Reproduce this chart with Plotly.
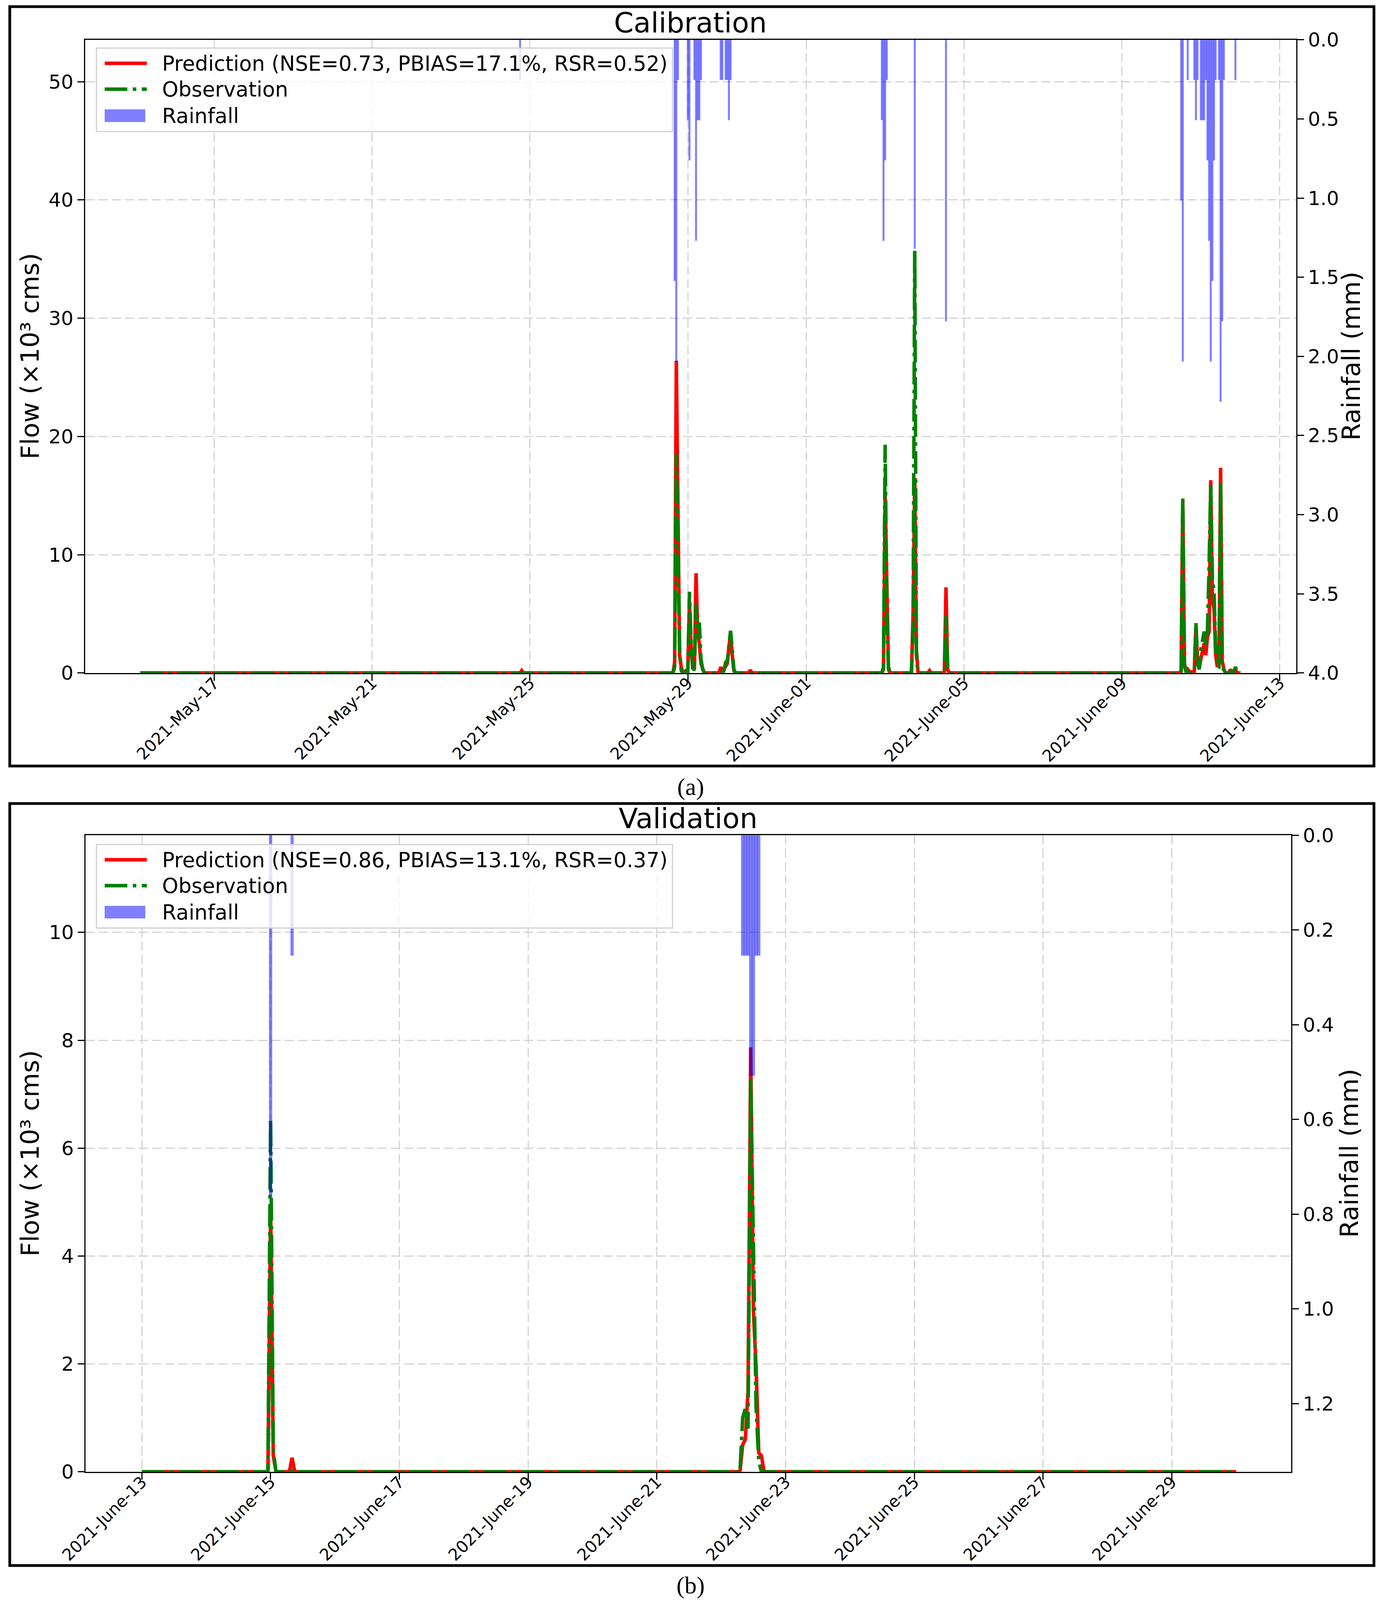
import plotly.graph_objects as go

# reference picture size; every position below is a fraction of it
W, H = 3536, 4829

# ---- calibration period (flow in x10^3 cms, rainfall in mm) ----
cal_time = [
    "2021-05-15 03:00", "2021-05-24 18:00", "2021-05-24 19:00", "2021-05-24 20:00",
    "2021-05-28 15:00", "2021-05-28 16:00", "2021-05-28 17:00", "2021-05-28 18:00",
    "2021-05-28 19:00", "2021-05-28 20:00", "2021-05-28 21:00", "2021-05-29 00:00",
    "2021-05-29 01:00", "2021-05-29 02:00", "2021-05-29 03:00", "2021-05-29 04:00",
    "2021-05-29 05:00", "2021-05-29 06:00", "2021-05-29 07:00", "2021-05-29 08:00",
    "2021-05-29 09:00", "2021-05-29 10:00", "2021-05-29 19:00", "2021-05-29 20:00",
    "2021-05-29 21:00", "2021-05-29 22:00", "2021-05-29 23:00", "2021-05-30 00:00",
    "2021-05-30 01:00", "2021-05-30 02:00", "2021-05-30 03:00", "2021-05-30 04:00",
    "2021-05-30 05:00", "2021-05-30 13:00", "2021-05-30 14:00", "2021-05-30 15:00",
    "2021-06-02 22:00", "2021-06-02 23:00", "2021-06-03 00:00", "2021-06-03 01:00",
    "2021-06-03 02:00", "2021-06-03 03:00", "2021-06-03 16:00", "2021-06-03 17:00",
    "2021-06-03 18:00", "2021-06-03 19:00", "2021-06-03 20:00", "2021-06-04 02:00",
    "2021-06-04 03:00", "2021-06-04 04:00", "2021-06-04 12:00", "2021-06-04 13:00",
    "2021-06-04 14:00", "2021-06-04 15:00", "2021-06-10 11:00", "2021-06-10 12:00",
    "2021-06-10 13:00", "2021-06-10 14:00", "2021-06-10 15:00", "2021-06-10 16:00",
    "2021-06-10 17:00", "2021-06-10 20:00", "2021-06-10 21:00", "2021-06-10 22:00",
    "2021-06-10 23:00", "2021-06-11 00:00", "2021-06-11 01:00", "2021-06-11 02:00",
    "2021-06-11 03:00", "2021-06-11 04:00", "2021-06-11 05:00", "2021-06-11 06:00",
    "2021-06-11 07:00", "2021-06-11 08:00", "2021-06-11 09:00", "2021-06-11 10:00",
    "2021-06-11 11:00", "2021-06-11 12:00", "2021-06-11 13:00", "2021-06-11 14:00",
    "2021-06-11 15:00", "2021-06-11 17:00", "2021-06-11 18:00", "2021-06-11 19:00",
    "2021-06-11 20:00", "2021-06-11 21:00", "2021-06-11 22:00", "2021-06-12 00:00",
]
cal_pred = [
    0, 0, 0.2, 0,
    0, 0.9, 26.4, 10.5,
    1.5, 0.5, 0, 0.3,
    5.9, 2.0, 0.4, 0.3,
    8.44, 3.5, 2.5, 0.8,
    0.3, 0, 0, 0.5,
    0.1, 0.3, 0.6, 0.8,
    2.2, 3.4, 1.5, 0.2,
    0, 0, 0.25, 0,
    0, 0.3, 15.1, 7.0,
    0.5, 0, 0, 5.0,
    16.5, 2.0, 0, 0,
    0.2, 0, 0, 7.24,
    0.3, 0, 0, 0.2,
    14.5, 0.8, 0.1, 0.3,
    0.1, 0.1, 4.0, 1.0,
    0.4, 1.2, 2.0, 2.5,
    1.5, 3.0, 3.5, 16.3,
    6.0, 5.5, 1.5, 0.5,
    0.8, 17.35, 1.0, 0.3,
    0, 0, 0.3, 0,
    0.1, 0.3, 0, 0,
]
cal_obs = [
    0, 0, 0.05, 0,
    0, 0.5, 18.5, 11.2,
    2.0, 0.2, 0, 0.1,
    6.87, 2.4, 0.5, 0.2,
    5.8, 3.8, 4.25, 1.2,
    0.3, 0, 0, 0.1,
    0, 0.2, 0.9, 1.0,
    2.7, 3.57, 2.0, 0.3,
    0, 0, 0.05, 0,
    0, 0.5, 19.3, 5.5,
    0.3, 0, 0, 4.0,
    35.7, 1.5, 0, 0,
    0.05, 0, 0, 4.8,
    0.4, 0, 0, 0.1,
    14.86, 0.6, 0.1, 0.1,
    0, 0.1, 4.25, 0.8,
    0.3, 2.0, 3.0, 3.5,
    2.2, 3.6, 9.1, 15.9,
    8.0, 6.9, 2.0, 0.5,
    0.5, 16.1, 0.5, 0.2,
    0, 0, 0.1, 0,
    0.1, 0.5, 0.1, 0,
]
cal_rain_time = [
    "2021-05-24 18:00", "2021-05-28 16:00", "2021-05-28 17:00", "2021-05-28 18:00",
    "2021-05-29 00:00", "2021-05-29 01:00", "2021-05-29 04:00", "2021-05-29 05:00",
    "2021-05-29 06:00", "2021-05-29 07:00", "2021-05-29 08:00", "2021-05-29 20:00",
    "2021-05-29 21:00", "2021-05-29 23:00", "2021-05-30 00:00", "2021-05-30 01:00",
    "2021-05-30 02:00", "2021-06-02 22:00", "2021-06-02 23:00", "2021-06-03 00:00",
    "2021-06-03 01:00", "2021-06-03 18:00", "2021-06-04 13:00", "2021-06-10 12:00",
    "2021-06-10 13:00", "2021-06-10 16:00", "2021-06-10 20:00", "2021-06-10 21:00",
    "2021-06-10 22:00", "2021-06-11 00:00", "2021-06-11 01:00", "2021-06-11 02:00",
    "2021-06-11 03:00", "2021-06-11 04:00", "2021-06-11 05:00", "2021-06-11 06:00",
    "2021-06-11 07:00", "2021-06-11 08:00", "2021-06-11 09:00", "2021-06-11 11:00",
    "2021-06-11 12:00", "2021-06-11 13:00", "2021-06-11 14:00", "2021-06-11 21:00",
]
cal_rain = [
    0.254, 1.524, 2.032, 0.254,
    0.508, 0.762, 0.254, 1.27,
    0.508, 0.508, 0.254, 0.254,
    0.254, 0.254, 0.254, 0.508,
    0.254, 0.508, 1.27, 0.762,
    0.254, 1.32, 1.778, 1.016,
    2.032, 0.254, 0.254, 0.508,
    0.254, 0.508, 0.508, 0.508,
    0.254, 0.762, 1.27, 2.032,
    1.524, 0.762, 0.254, 0.254,
    2.286, 1.778, 0.254, 0.254,
]

# ---- validation period ----
val_time = [
    "2021-06-13 00:00", "2021-06-14 23:00", "2021-06-15 00:00", "2021-06-15 01:00",
    "2021-06-15 02:00", "2021-06-15 07:00", "2021-06-15 08:00", "2021-06-15 09:00",
    "2021-06-22 07:00", "2021-06-22 08:00", "2021-06-22 09:00", "2021-06-22 10:00",
    "2021-06-22 11:00", "2021-06-22 12:00", "2021-06-22 13:00", "2021-06-22 14:00",
    "2021-06-22 15:00", "2021-06-22 16:00", "2021-06-30 00:00",
]
val_pred = [0, 0, 4.84, 0.3, 0, 0, 0.26, 0, 0, 0.5, 0.6, 1.5, 7.87, 3.0, 1.94, 0.35, 0.3, 0, 0]
val_obs = [0, 0, 6.53, 0.4, 0, 0, 0.02, 0, 0, 1.0, 1.17, 0.8, 7.29, 4.3, 1.2, 0.2, 0, 0, 0]
val_rain_time = [
    "2021-06-15 00:00", "2021-06-15 08:00", "2021-06-22 08:00", "2021-06-22 09:00",
    "2021-06-22 10:00", "2021-06-22 11:00", "2021-06-22 12:00", "2021-06-22 13:00",
    "2021-06-22 14:00",
]
val_rain = [0.762, 0.254, 0.254, 0.254, 0.254, 0.508, 0.508, 0.254, 0.254]

cal_ticks = ["2021-05-17", "2021-05-21", "2021-05-25", "2021-05-29",
             "2021-06-01", "2021-06-05", "2021-06-09", "2021-06-13"]
val_ticks = ["2021-06-13", "2021-06-15", "2021-06-17", "2021-06-19", "2021-06-21",
             "2021-06-23", "2021-06-25", "2021-06-27", "2021-06-29"]

cal_label = "Prediction (NSE=0.73, PBIAS=17.1%, RSR=0.52)"
val_label = "Prediction (NSE=0.86, PBIAS=13.1%, RSR=0.37)"


def px(x):
    return x / W


def py(y):
    return 1 - y / H


FONT = "DejaVu Sans"
RED = "red"
GREEN = "green"
RAIN = "rgba(0,0,255,0.5)"
OBS_DASH = "58px,14px,9px,14px"

fig = go.Figure()

panels = [
    ("x", "y", "y2", cal_time, cal_pred, cal_obs, cal_rain_time, cal_rain, cal_label),
    ("x2", "y3", "y4", val_time, val_pred, val_obs, val_rain_time, val_rain, val_label),
]
for xa, ya, yr, t, pred, obs, rt, rain, lab in panels:
    fig.add_trace(go.Scatter(x=t, y=pred, xaxis=xa, yaxis=ya, mode="lines", name=lab,
                             line=dict(color=RED, width=9)))
    fig.add_trace(go.Scatter(x=t, y=obs, xaxis=xa, yaxis=ya, mode="lines", name="Observation",
                             line=dict(color=GREEN, width=9, dash=OBS_DASH)))
    fig.add_trace(go.Bar(x=rt, y=rain, xaxis=xa, yaxis=yr, name="Rainfall", width=4320000,
                         marker=dict(color=RAIN, line=dict(width=0))))

common = dict(showline=True, linecolor="black", linewidth=3, ticks="outside",
              ticklen=17, tickwidth=3, tickcolor="black", zeroline=False,
              automargin=False)
grid = dict(showgrid=True, gridcolor="#d4d4d4", gridwidth=3, griddash="24px,10px")
xfont = dict(family=FONT, size=42, color="black")
yfont = dict(family=FONT, size=50, color="black")

fig.update_layout(
    margin=dict(l=0, r=0, t=0, b=0),
    paper_bgcolor="white", plot_bgcolor="white",
    barmode="overlay", showlegend=False,
    font=dict(family=FONT, color="black"),
    xaxis=dict(domain=[px(218), px(3319)], anchor="y", type="date",
               range=["2021-05-13 17:30", "2021-06-13 10:00"], tickvals=cal_ticks,
               tickformat="%Y-%B-%d", tickangle=-45, tickfont=xfont, mirror=True,
               ticklabelstandoff=-35, **grid, **common),
    yaxis=dict(domain=[py(2031), py(120)], anchor="x", range=[0, 53.55],
               tickvals=[0, 10, 20, 30, 40, 50], tickfont=yfont, **grid, **common),
    yaxis2=dict(overlaying="y", anchor="x", side="right", range=[4, 0],
                tickvals=[0, 0.5, 1, 1.5, 2, 2.5, 3, 3.5, 4], tickformat=".1f",
                tickfont=yfont, showgrid=False, **common),
    xaxis2=dict(domain=[px(219), px(3306)], anchor="y3", type="date",
                range=["2021-06-12 03:00", "2021-06-30 20:30"], tickvals=val_ticks,
                tickformat="%Y-%B-%d", tickangle=-45, tickfont=xfont, mirror=True,
                ticklabelstandoff=-35, **grid, **common),
    yaxis3=dict(domain=[py(4442), py(2521)], anchor="x2", range=[0, 11.8],
                tickvals=[0, 2, 4, 6, 8, 10], tickfont=yfont, **grid, **common),
    yaxis4=dict(overlaying="y3", anchor="x2", side="right", range=[1.344, 0],
                tickvals=[0, 0.2, 0.4, 0.6, 0.8, 1.0, 1.2], tickformat=".1f",
                tickfont=yfont, showgrid=False, **common),
)

# outer frames around each panel
for top, bottom in [(20, 2312), (2425, 4725)]:
    fig.add_shape(type="rect", xref="paper", yref="paper",
                  x0=px(25), x1=px(3518), y0=py(bottom), y1=py(top),
                  line=dict(color="black", width=7), layer="above")

# matplotlib-style legends drawn by hand (long line samples)
for top, lab in [(145, cal_label), (2549, val_label)]:
    fig.add_shape(type="rect", xref="paper", yref="paper",
                  x0=px(247), x1=px(1722), y0=py(top + 252), y1=py(top),
                  line=dict(color="#d0d0d0", width=3),
                  fillcolor="rgba(255,255,255,0.8)", layer="above")
    rows = [top + 46, top + 124, top + 204]
    fig.add_shape(type="line", xref="paper", yref="paper",
                  x0=px(268), x1=px(376), y0=py(rows[0]), y1=py(rows[0]),
                  line=dict(color=RED, width=9), layer="above")
    fig.add_shape(type="line", xref="paper", yref="paper",
                  x0=px(268), x1=px(376), y0=py(rows[1]), y1=py(rows[1]),
                  line=dict(color=GREEN, width=9, dash=OBS_DASH), layer="above")
    fig.add_shape(type="rect", xref="paper", yref="paper",
                  x0=px(268), x1=px(372), y0=py(rows[2] + 19), y1=py(rows[2] - 19),
                  line=dict(width=0), fillcolor=RAIN, layer="above")
    for txt, yy in zip([lab, "Observation", "Rainfall"], rows):
        fig.add_annotation(text=txt, x=px(413), y=py(yy), xref="paper", yref="paper",
                           xanchor="left", yanchor="middle", showarrow=False,
                           font=dict(family=FONT, size=53, color="black"))

notes = [
    ("Calibration", 1768, 68, 72, 0, FONT),
    ("Validation", 1762, 2470, 72, 0, FONT),
    ("Flow (×10³ cms)", 77, 1075, 64, -90, FONT),
    ("Flow (×10³ cms)", 77, 3481, 64, -90, FONT),
    ("Rainfall (mm)", 3460, 1075, 64, -90, FONT),
    ("Rainfall (mm)", 3455, 3481, 64, -90, FONT),
    ("(a)", 1768, 2375, 62, 0, "Liberation Serif"),
    ("(b)", 1768, 4785, 62, 0, "Liberation Serif"),
]
for txt, x, y, size, ang, fam in notes:
    fig.add_annotation(text=txt, x=px(x), y=py(y), xref="paper", yref="paper",
                       xanchor="center", yanchor="middle", showarrow=False,
                       textangle=ang, font=dict(family=fam, size=size, color="black"))

# fill the browser window so the whole figure is in the photograph
fig.write_html(
    "out.html",
    config={"displayModeBar": False},
    default_width="100vw",
    default_height="100vh",
    post_script="document.body.style.margin='0';"
                "Plotly.Plots.resize(document.getElementById('{plot_id}'));",
)
